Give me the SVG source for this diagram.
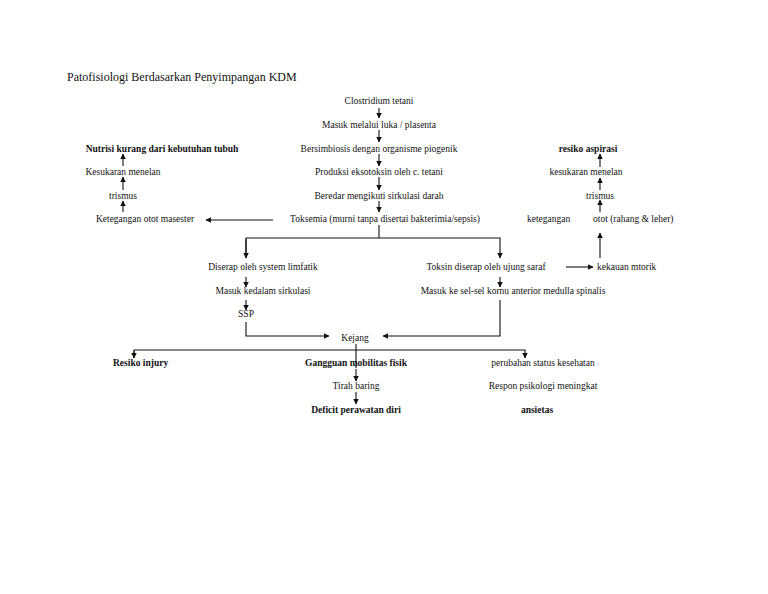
<svg xmlns="http://www.w3.org/2000/svg" width="768" height="594" viewBox="0 0 768 594">
<style>
text{font-family:"Liberation Serif",serif;font-size:9.5px;fill:#111}
.b{font-weight:bold}
.c{text-anchor:middle}
.t{font-size:12px}
#connectors path,#connectors line{stroke:#111;stroke-width:1.1;fill:none}
</style>
<defs><marker id="a" viewBox="0 0 10 10" refX="9" refY="5" markerWidth="5" markerHeight="5" orient="auto"><path d="M0,0L10,5L0,10z" fill="#111"/></marker></defs>
<rect width="768" height="594" fill="#fff"/>
<text class="t" x="67" y="81">Patofisiologi Berdasarkan Penyimpangan KDM</text>
<g id="connectors">
<line x1="379" y1="108" x2="379" y2="118" marker-end="url(#a)"/>
<line x1="379" y1="130" x2="379" y2="142" marker-end="url(#a)"/>
<line x1="379" y1="154" x2="379" y2="166" marker-end="url(#a)"/>
<line x1="379" y1="177" x2="379" y2="190" marker-end="url(#a)"/>
<line x1="379" y1="201" x2="379" y2="212" marker-end="url(#a)"/>
<line x1="273" y1="220" x2="206" y2="220" marker-end="url(#a)"/>
<line x1="123" y1="212" x2="123" y2="201" marker-end="url(#a)"/>
<line x1="123" y1="190" x2="123" y2="177" marker-end="url(#a)"/>
<line x1="123" y1="166" x2="123" y2="154" marker-end="url(#a)"/>
<path d="M379,225V238"/>
<path d="M246,258V238H500V258" marker-end="url(#a)"/>
<line x1="246" y1="239" x2="246" y2="258" marker-end="url(#a)"/>
<line x1="246" y1="277" x2="246" y2="287" marker-end="url(#a)"/>
<line x1="246" y1="300" x2="246" y2="310" marker-end="url(#a)"/>
<path d="M246,322V336H329" marker-end="url(#a)"/>
<line x1="500" y1="277" x2="500" y2="287" marker-end="url(#a)"/>
<path d="M500,300V336H383" marker-end="url(#a)"/>
<line x1="566" y1="267" x2="593" y2="267" marker-end="url(#a)"/>
<line x1="600" y1="258" x2="600" y2="233" marker-end="url(#a)"/>
<line x1="600" y1="190" x2="600" y2="178" marker-end="url(#a)"/>
<line x1="600" y1="167" x2="600" y2="154" marker-end="url(#a)"/>
<line x1="600" y1="212" x2="600" y2="200" marker-end="url(#a)"/>
<path d="M356,344V368"/>
<path d="M134,358V350H525V358" marker-end="url(#a)"/>
<line x1="134" y1="351" x2="134" y2="358" marker-end="url(#a)"/>
<line x1="356" y1="369" x2="356" y2="381" marker-end="url(#a)"/>
<line x1="356" y1="392" x2="356" y2="404" marker-end="url(#a)"/>
</g>
<g id="n1"><text class="c" x="379" y="104">Clostridium tetani</text></g>
<g id="n2"><text class="c" x="379" y="128">Masuk melalui luka / plasenta</text></g>
<g id="n3"><text class="c" x="379" y="152">Bersimbiosis dengan organisme piogenik</text></g>
<g id="n4"><text class="c" x="379" y="175">Produksi eksotoksin oleh c. tetani</text></g>
<g id="n5"><text class="c" x="379" y="199">Beredar mengikuti sirkulasi darah</text></g>
<g id="n6"><text class="c" x="385" y="222">Toksemia (murni tanpa disertai bakterimia/sepsis)</text></g>
<g id="n7"><text class="b c" x="162" y="152">Nutrisi kurang dari kebutuhan tubuh</text></g>
<g id="n8"><text class="c" x="123" y="175">Kesukaran menelan</text></g>
<g id="n9"><text class="c" x="123" y="199">trismus</text></g>
<g id="n10"><text class="c" x="145" y="222">Ketegangan otot masester</text></g>
<g id="n11"><text class="b c" x="588" y="152">resiko aspirasi</text></g>
<g id="n12"><text class="c" x="586" y="175">kesukaran  menelan</text></g>
<g id="n13"><text class="c" x="600" y="199">trismus</text></g>
<g id="n14"><text x="527" y="222">ketegangan</text><text x="593" y="222">otot (rahang &amp; leher)</text></g>
<g id="n15"><text class="c" x="263" y="270">Diserap oleh system limfatik</text></g>
<g id="n16"><text class="c" x="263" y="294">Masuk kedalam sirkulasi</text></g>
<g id="n17"><text class="c" x="246" y="317">SSP</text></g>
<g id="n18"><text class="c" x="486" y="270">Toksin diserap oleh ujung saraf</text></g>
<g id="n19"><text x="597" y="270">kekauan mtorik</text></g>
<g id="n20"><text class="c" x="513" y="294">Masuk ke sel-sel kornu anterior  medulla spinalis</text></g>
<g id="n21"><text class="c" x="355" y="341">Kejang</text></g>
<g id="n22"><text class="b" x="113" y="366">Resiko injury</text></g>
<g id="n23"><text class="b c" x="356" y="366">Gangguan mobilitas fisik</text></g>
<g id="n24"><text class="c" x="356" y="389">Tirah baring</text></g>
<g id="n25"><text class="b c" x="356" y="413">Deficit perawatan diri</text></g>
<g id="n26"><text class="c" x="543" y="366">perubahan status kesehatan</text></g>
<g id="n27"><text class="c" x="543" y="389">Respon psikologi meningkat</text></g>
<g id="n28"><text class="b c" x="537" y="413">ansietas</text></g>
</svg>
